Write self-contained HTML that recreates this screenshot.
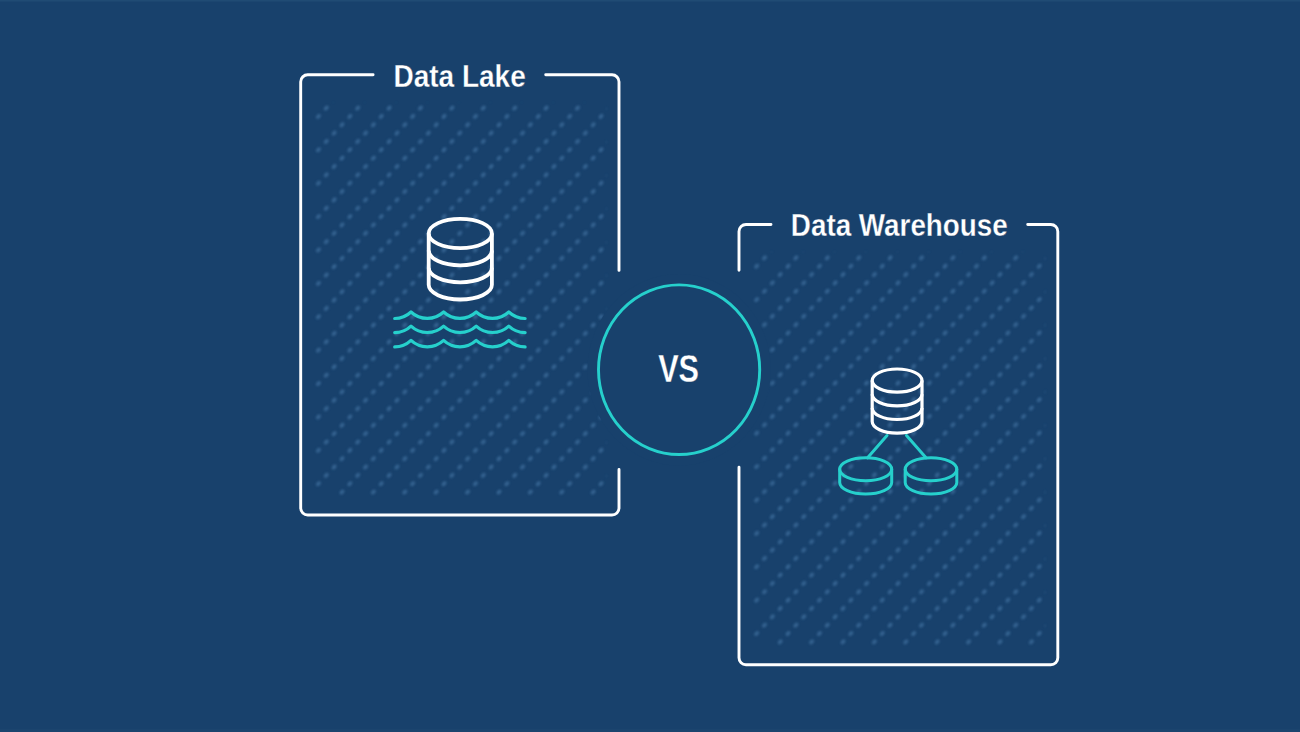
<!DOCTYPE html>
<html><head><meta charset="utf-8"><title>Data Lake vs Data Warehouse</title>
<style>
html,body{margin:0;padding:0;width:1300px;height:732px;overflow:hidden;background:#18416c;}
svg{display:block;}
</style></head>
<body>
<svg width="1300" height="732" viewBox="0 0 1300 732">
<defs>
<pattern id="dotsL" patternUnits="userSpaceOnUse" x="330.15" y="104.0" width="31.4" height="33.392"><ellipse cx="4.000" cy="29.044" rx="2.8" ry="1.95" transform="rotate(-46.7 4.000 29.044)" fill="#40709f"/><ellipse cx="11.850" cy="20.696" rx="2.8" ry="1.95" transform="rotate(-46.7 11.850 20.696)" fill="#40709f"/><ellipse cx="19.700" cy="12.348" rx="2.8" ry="1.95" transform="rotate(-46.7 19.700 12.348)" fill="#40709f"/><ellipse cx="27.550" cy="4.000" rx="2.8" ry="1.95" transform="rotate(-46.7 27.550 4.000)" fill="#40709f"/></pattern>
<pattern id="dotsR" patternUnits="userSpaceOnUse" x="768.35" y="253.8" width="31.4" height="33.392"><ellipse cx="4.000" cy="29.044" rx="2.8" ry="1.95" transform="rotate(-46.7 4.000 29.044)" fill="#40709f"/><ellipse cx="11.850" cy="20.696" rx="2.8" ry="1.95" transform="rotate(-46.7 11.850 20.696)" fill="#40709f"/><ellipse cx="19.700" cy="12.348" rx="2.8" ry="1.95" transform="rotate(-46.7 19.700 12.348)" fill="#40709f"/><ellipse cx="27.550" cy="4.000" rx="2.8" ry="1.95" transform="rotate(-46.7 27.550 4.000)" fill="#40709f"/></pattern>
<filter id="blur" x="-5%" y="-5%" width="110%" height="110%"><feGaussianBlur stdDeviation="0.9"/></filter>
</defs>
<rect width="1300" height="732" fill="#18416c"/>
<rect x="0" y="0" width="1300" height="1" fill="#204b74"/>
<rect x="0" y="1" width="1300" height="1" fill="#1c4670"/>
<rect x="0" y="729" width="1300" height="3" fill="#1b446e"/>
<rect x="314" y="102" width="293" height="395" fill="url(#dotsL)" filter="url(#blur)" opacity="0.7"/>
<rect x="752.3" y="251.8" width="293" height="395" fill="url(#dotsR)" filter="url(#blur)" opacity="0.7"/>

<ellipse cx="679.1" cy="369.7" rx="91.6" ry="95.8" fill="#18416c"/>
<g fill="none" stroke="#ffffff" stroke-width="2.9" stroke-linecap="round">
<path d="M373.1 74.8 H307.7 A7 7 0 0 0 300.7 81.8 V508.0 A7 7 0 0 0 307.7 515.0 H612.0 A7 7 0 0 0 619.0 508.0 V469.4"/>
<path d="M619.0 270.4 V81.8 A7 7 0 0 0 612.0 74.8 H545.7"/>
<path d="M771 224.5 H746.0 A7 7 0 0 0 739.0 231.5 V270.2"/>
<path d="M739.0 467.3 V657.8 A7 7 0 0 0 746.0 664.8 H1050.8 A7 7 0 0 0 1057.8 657.8 V231.5 A7 7 0 0 0 1050.8 224.5 H1027.7"/>
</g>

<g font-family="Liberation Sans" font-weight="bold" fill="#ffffff" stroke="#18416c" stroke-width="0.3">
<text transform="translate(393.4 86.5) scale(0.898 1)" font-size="31.2">Data Lake</text>
<text transform="translate(790.85 236.0) scale(0.892 1)" font-size="31.2">Data Warehouse</text>
<text transform="translate(658.2 382.2) scale(0.785 1)" font-size="39">VS</text>
</g>

<ellipse cx="679.1" cy="369.7" rx="80.6" ry="84.8" fill="none" stroke="#26d0cc" stroke-width="2.9"/>

<g fill="none" stroke="#ffffff" stroke-width="3.8" stroke-linejoin="round">
<ellipse cx="460.3" cy="233.5" rx="31.6" ry="14.7"/><path d="M428.70 233.5 V284.80 A31.6 14.7 0 0 0 491.90 284.80 V233.5"/><path d="M428.70 250.60 A31.6 14.7 0 0 0 491.90 250.60"/><path d="M428.70 267.70 A31.6 14.7 0 0 0 491.90 267.70"/>
</g>
<g fill="none" stroke="#26d0cc" stroke-width="3.2" stroke-linecap="round" stroke-linejoin="round">
<path d="M394.7 318.5 A24 24 0 0 0 411 312.0 A24 24 0 0 0 443.6 312.0 A24 24 0 0 0 476.2 312.0 A24 24 0 0 0 508.8 312.0 A24 24 0 0 0 525.1 318.5"/>
<path d="M394.7 332.6 A24 24 0 0 0 411 326.1 A24 24 0 0 0 443.6 326.1 A24 24 0 0 0 476.2 326.1 A24 24 0 0 0 508.8 326.1 A24 24 0 0 0 525.1 332.6"/>
<path d="M394.7 346.9 A24 24 0 0 0 411 340.4 A24 24 0 0 0 443.6 340.4 A24 24 0 0 0 476.2 340.4 A24 24 0 0 0 508.8 340.4 A24 24 0 0 0 525.1 346.9"/>
</g>

<g fill="none" stroke="#ffffff" stroke-width="3.2" stroke-linejoin="round">
<ellipse cx="897.1" cy="380.6" rx="24.9" ry="11.6"/><path d="M872.20 380.6 V421.55 A24.9 11.6 0 0 0 922.00 421.55 V380.6"/><path d="M872.20 394.25 A24.9 11.6 0 0 0 922.00 394.25"/><path d="M872.20 407.90 A24.9 11.6 0 0 0 922.00 407.90"/>
</g>
<g fill="none" stroke="#26d0cc" stroke-width="3" stroke-linecap="round" stroke-linejoin="round">
<path d="M887 435.5 L867.6 457.8"/>
<path d="M906.5 435.5 L926.0 457.8"/>
<ellipse cx="865.7" cy="469.3" rx="26.0" ry="11.5"/><path d="M839.70 469.3 V482.50 A26.0 11.5 0 0 0 891.70 482.50 V469.3"/>
<ellipse cx="931.0" cy="469.3" rx="25.8" ry="11.5"/><path d="M905.20 469.3 V482.50 A25.8 11.5 0 0 0 956.80 482.50 V469.3"/>
</g>
</svg>
</body></html>
